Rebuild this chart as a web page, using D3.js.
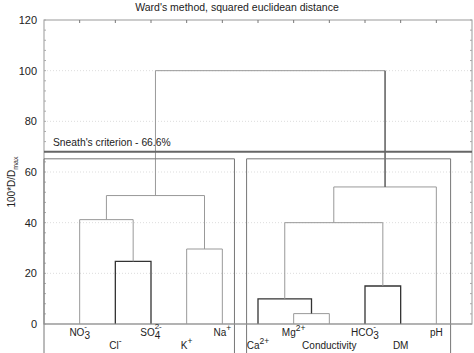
<!DOCTYPE html>
<html><head><meta charset="utf-8">
<script src="https://cdn.jsdelivr.net/npm/d3@7"></script>
<style>body{margin:0;background:#fff}svg{display:block;font-family:"Liberation Sans",Arial,sans-serif}</style>
</head><body><svg id="c" width="474" height="353"></svg>
<script>
const title = "Ward's method, squared euclidean distance";
const yLabel = ["100*D/D","max"];
// leaves in dendrogram order: [base, sub, sup, row]
const leaves = [
  ["NO","3","-",0],["Cl","","-",1],["SO","4","2-",0],["K","","+",1],["Na","","+",0],
  ["Ca","","2+",1],["Mg","","2+",0],["Conductivity","","",1],["HCO","3","-",0],["DM","","",1],["pH","","",0]
];
// merges: [childA, childB, height, dark]; ids < 0 are leaves (-(i+1)), >=0 merges
const merges = [
  [-2,-3,24.7,1],   // m0 Cl + SO4
  [-4,-5,29.6,0],   // m1 K + Na
  [-1,0,41.2,0],    // m2
  [2,1,50.7,0],     // m3
  [-7,-8,4.1,0],    // m4 Mg + Conductivity
  [-6,4,9.9,1],     // m5
  [-9,-10,15.0,1],  // m6 HCO3 + DM
  [5,6,40.0,0],     // m7
  [7,-11,54.1,0],   // m8
  [3,8,100,0]       // m9 root
];
const yTicks = [0,20,40,60,80,100,120];
const criterion = 68;
const criterionText = "Sneath's criterion - 66.6%";
const clusterBoxes = [[0,5.34,65.2],[5.68,11.4,65.2]];

const svg = d3.select("#c");
const L=44,R=472,T=20,B=324;
const x = d3.scaleLinear().domain([0,leaves.length+1]).range([L,R]);
const y = d3.scaleLinear().domain([0,120]).range([B,T]);

// grid
svg.append("g").selectAll("line").data(yTicks.filter(d=>d>0&&d<120)).join("line")
  .attr("x1",L).attr("x2",R).attr("y1",d=>y(d)).attr("y2",d=>y(d))
  .attr("stroke","#ddd").attr("stroke-dasharray","1,2");

// frame
svg.append("rect").attr("x",L).attr("y",T).attr("width",R-L).attr("height",B-T)
  .attr("fill","none").attr("stroke","#999");

// y axis
const ya = svg.append("g").attr("transform",`translate(${L},0)`)
  .call(d3.axisLeft(y).tickValues(yTicks).tickSize(0).tickPadding(7));
ya.select(".domain").remove();
ya.selectAll("text").attr("font-size",11).attr("fill","#222").attr("font-family","Liberation Sans, Arial");
// minor ticks left and right
const minor = d3.range(0,121,4);
svg.append("g").selectAll("line").data(minor).join("line")
  .attr("x1",L).attr("x2",L+2).attr("y1",d=>y(d)).attr("y2",d=>y(d)).attr("stroke","#aaa");
svg.append("g").selectAll("line").data(minor).join("line")
  .attr("x1",R-2).attr("x2",R).attr("y1",d=>y(d)).attr("y2",d=>y(d)).attr("stroke","#aaa");
// top ticks
svg.append("g").selectAll("line").data(d3.range(1,leaves.length+1)).join("line")
  .attr("x1",d=>x(d)).attr("x2",d=>x(d)).attr("y1",T).attr("y2",T+3).attr("stroke","#777");

// dendrogram
const pos = [];
function px(id){ return id<0 ? x(-id) : pos[id][0]; }
function ph(id){ return id<0 ? 0 : pos[id][1]; }
merges.forEach((m,i)=>{
  const xa=px(m[0]), xb=px(m[1]);
  pos[i]=[(xa+xb)/2, m[2]];
  svg.append("path")
    .attr("d",`M${xa},${y(ph(m[0]))}V${y(m[2])}H${xb}V${y(ph(m[1]))}`)
    .attr("fill","none").attr("stroke",m[3]?"#333":"#999").attr("stroke-width",m[3]?1.3:1);
});
// root connection darker right leg
svg.append("line").attr("x1",pos[8][0]).attr("x2",pos[8][0])
  .attr("y1",y(100)).attr("y2",y(pos[8][1])).attr("stroke","#555").attr("stroke-width",1.2);

// cluster boxes
svg.append("g").selectAll("path").data(clusterBoxes).join("path")
  .attr("d",d=>`M${x(d[0])},353V${y(d[2])}H${x(d[1])}V353`)
  .attr("fill","none").attr("stroke","#777");

// baseline
svg.append("line").attr("x1",L).attr("x2",R).attr("y1",B).attr("y2",B).attr("stroke","#999");

// criterion
svg.append("line").attr("x1",L).attr("x2",R).attr("y1",y(criterion)).attr("y2",y(criterion))
  .attr("stroke","#666").attr("stroke-width",2);
svg.append("text").attr("x",53).attr("y",y(criterion)-6).attr("font-size",10.3).attr("fill","#222").text(criterionText);

// leaf labels
leaves.forEach((l,i)=>{
  const t = svg.append("text").attr("x",x(i+1)).attr("y",l[3]?349:336)
    .attr("font-size",10).attr("fill","#222").attr("text-anchor","middle");
  t.append("tspan").text(l[0]);
  if(l[1]){
    t.append("tspan").attr("font-size",10).attr("dy",3).text(l[1]);
    if(l[2]) t.append("tspan").attr("font-size",8).attr("dx",-5.6).attr("dy",-10).text(l[2]);
  } else if(l[2]){
    t.append("tspan").attr("font-size",8.5).attr("dy",-5).text(l[2]);
  }
});

// title
svg.append("text").attr("x",237).attr("y",11).attr("text-anchor","middle")
  .attr("font-size",10.5).attr("fill","#222").text(title);

// y label
const yl = svg.append("text").attr("transform","translate(15,182) rotate(-90)")
  .attr("text-anchor","middle").attr("font-size",10).attr("fill","#222");
yl.append("tspan").text(yLabel[0]);
yl.append("tspan").attr("font-size",7).attr("dy",3).text(yLabel[1]);
</script></body></html>
